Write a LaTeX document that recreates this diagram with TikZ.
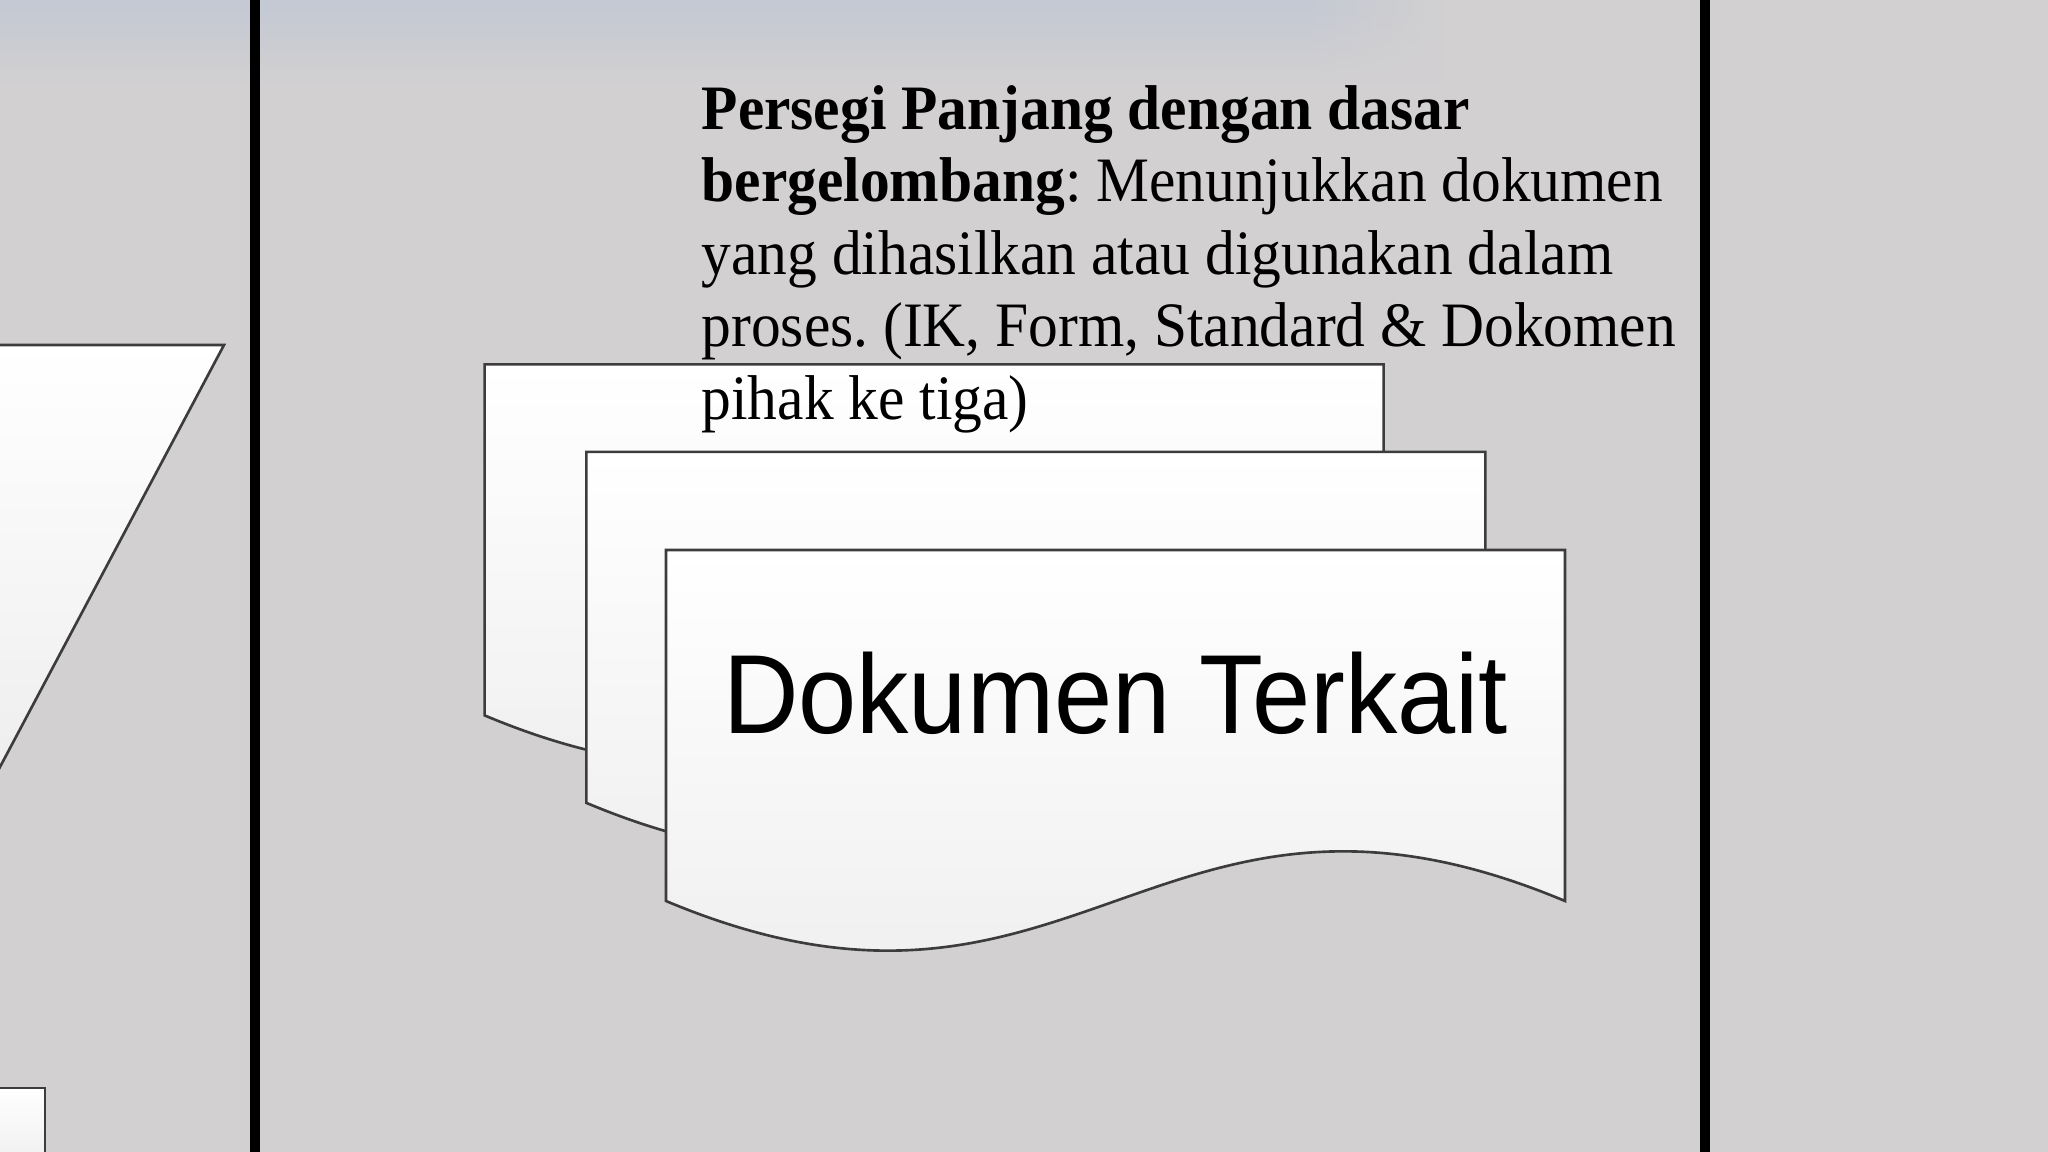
\documentclass[tikz,border=0pt]{standalone}
\usepackage{fontspec}
\setmainfont[FakeStretch=0.94]{Liberation Serif}
\newfontfamily\labelfont[FakeStretch=0.93]{Liberation Sans}
\usetikzlibrary{positioning}
\usetikzlibrary{fadings}
\frenchspacing
\definecolor{bgcol}{RGB}{210,208,209}
\definecolor{bandtint}{RGB}{196,201,212}
\definecolor{edgecol}{RGB}{60,60,60}
\definecolor{sheetlow}{RGB}{236,236,236}
\tikzfading[name=bandfade,
    top color=transparent!0,
    middle color=transparent!15,
    bottom color=transparent!100]
\pgfdeclarehorizontalshading{bandshade}{100bp}{color(0bp)=(bandtint); color(70bp)=(bandtint); color(75bp)=(bgcol); color(100bp)=(bgcol)}
\tikzset{
    sheet/.style={
        draw=edgecol,
        line width=0.75pt,
        top color=white,
        bottom color=sheetlow},
    lane/.style={
        draw=black,
        line width=2.85pt},
    docsheet/.pic={
        \path[sheet] (0,0) -- (8.99,0) -- (8.99,-3.51)
            .. controls (4.89,-1.79) and (4.1,-5.23) .. (0,-3.51) -- cycle;}}

\begin{document}
\begin{tikzpicture}
    \useasboundingbox (0,0) rectangle (20.48,-11.52);
    \fill[bgcol] (0,0) rectangle (20.48,-11.52);
    \shade[shading=bandshade, path fading=bandfade] (0,0) rectangle (14.5,-0.85);

    % shapes cut by the picture edge
    \begin{scope}
        \clip (0,0) rectangle (20.48,-11.52);
        \path[sheet] (-0.3,-3.45) -- (2.24,-3.45) -- (-0.3,-8.235) -- cycle;
        \path[sheet] (-0.3,-10.88) -- (0.45,-10.88) -- (0.45,-11.8) -- (-0.3,-11.8) -- cycle;
    \end{scope}

    \coordinate (ltop) at (2.55,0);
    \coordinate (lbot) at (2.55,-11.52);
    \coordinate (rtop) at (17.05,0);
    \coordinate (rbot) at (17.05,-11.52);
    \draw[lane] (ltop) -- (lbot);
    \draw[lane] (rtop) -- (rbot);

    \pic (back) at (4.846,-3.644) {docsheet};
    \pic (middle) at (5.864,-4.519) {docsheet};
    \pic (front) at (6.66,-5.50) {docsheet};

    \node[font=\labelfont\fontsize{32}{36}\selectfont, inner sep=0pt, anchor=base]
        (doclabel) at (11.154,-7.34) {Dokumen Terkait};

    \node[anchor=north west, align=left, inner sep=0pt,
        font=\fontsize{18}{20.6}\selectfont] (desc) at (7.01,-0.85)
        {\textbf{Persegi Panjang dengan dasar}\\
        \textbf{bergelombang}: Menunjukkan dokumen\\
        yang dihasilkan atau digunakan dalam\\
        proses. (IK, Form, Standard \& Dokomen\\
        pihak ke tiga)};
\end{tikzpicture}
\end{document}
